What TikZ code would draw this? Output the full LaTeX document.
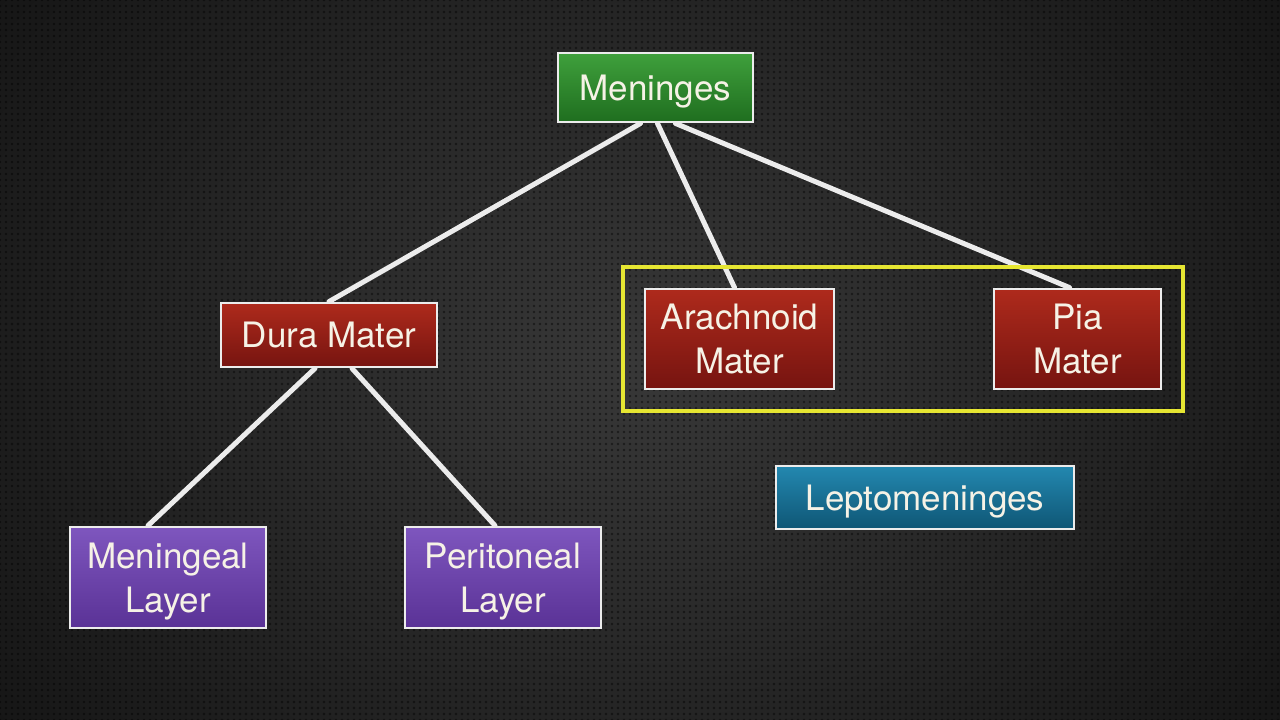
\documentclass[tikz,border=0pt]{standalone}
\usepackage{fontspec}
\setmainfont{TeX Gyre Heros}
\usetikzlibrary{fit,backgrounds,patterns.meta}
\pgfdeclarelayer{backdrop}
\pgfsetlayers{backdrop,background,main}
\definecolor{chalk}{HTML}{ECECEC}
\definecolor{txt}{HTML}{F6F2E6}
\definecolor{grnT}{HTML}{3FA03C}
\definecolor{grnB}{HTML}{1F6E1F}
\definecolor{redT}{HTML}{AE2A1C}
\definecolor{redB}{HTML}{761410}
\definecolor{purT}{HTML}{7E56BE}
\definecolor{purB}{HTML}{5A3296}
\definecolor{bluT}{HTML}{2388B0}
\definecolor{bluB}{HTML}{0F5675}
\definecolor{ylw}{HTML}{E6E632}
\definecolor{bgIn}{HTML}{383838}
\definecolor{bgOut}{HTML}{141414}
\tikzset{
  box/.style={draw=chalk, line width=2.8pt, inner sep=0pt, align=center,
    text=txt, font=\fontsize{35}{44}\selectfont, text depth=0pt,
    shading=axis, shading angle=0},
  grnbox/.style={box, top color=grnT, bottom color=grnB},
  redbox/.style={box, top color=redT, bottom color=redB},
  purbox/.style={box, top color=purT, bottom color=purB},
  blubox/.style={box, top color=bluT, bottom color=bluB},
  link/.style={draw=chalk, line width=5pt, line cap=round},
  groupbox/.style={draw=ylw, line width=4pt, inner sep=21pt}
}
\begin{document}
\begin{tikzpicture}[x=1pt,y=-1pt]
\useasboundingbox (0,0) rectangle (1280,720);
\begin{pgfonlayer}{backdrop}
\shade[inner color=bgIn, outer color=bgOut] (-200,-300) rectangle (1480,1020);
\fill[pattern={Dots[distance=6pt, radius=1.4pt]}, pattern color=black, opacity=0.45] (0,0) rectangle (1280,720);
\end{pgfonlayer}

\node[grnbox, minimum width=195pt, minimum height=69pt] (men) at (655.5,87.5) {Meninges};
\node[redbox, minimum width=216pt, minimum height=64pt] (dura) at (329,335) {Dura Mater};
\node[redbox, minimum width=189pt, minimum height=100pt] (arach) at (739.5,339) {Arachnoid\\Mater};
\node[redbox, minimum width=167pt, minimum height=100pt] (pia) at (1077.5,339) {Pia\\Mater};
\node[blubox, minimum width=298pt, minimum height=63pt] (lepto) at (925,497.5) {Leptomeninges};
\node[purbox, minimum width=196pt, minimum height=101pt] (menl) at (168,577.5) {Meningeal\\Layer};
\node[purbox, minimum width=196pt, minimum height=101pt] (peri) at (503,577.5) {Peritoneal\\Layer};
\node[groupbox, fit=(arach)(pia)] (grp) {};

\begin{scope}[on background layer]
\draw[link] ([xshift=-15pt]men.south) -- (dura.north);
\draw[link] ([xshift=2pt]men.south) -- ([xshift=-5pt]arach.north);
\draw[link] ([xshift=20pt]men.south) -- ([xshift=-8pt]pia.north);
\draw[link] ([xshift=-14pt]dura.south) -- ([xshift=-20pt]menl.north);
\draw[link] ([xshift=23pt]dura.south) -- ([xshift=-8pt]peri.north);
\end{scope}
\end{tikzpicture}
\end{document}
